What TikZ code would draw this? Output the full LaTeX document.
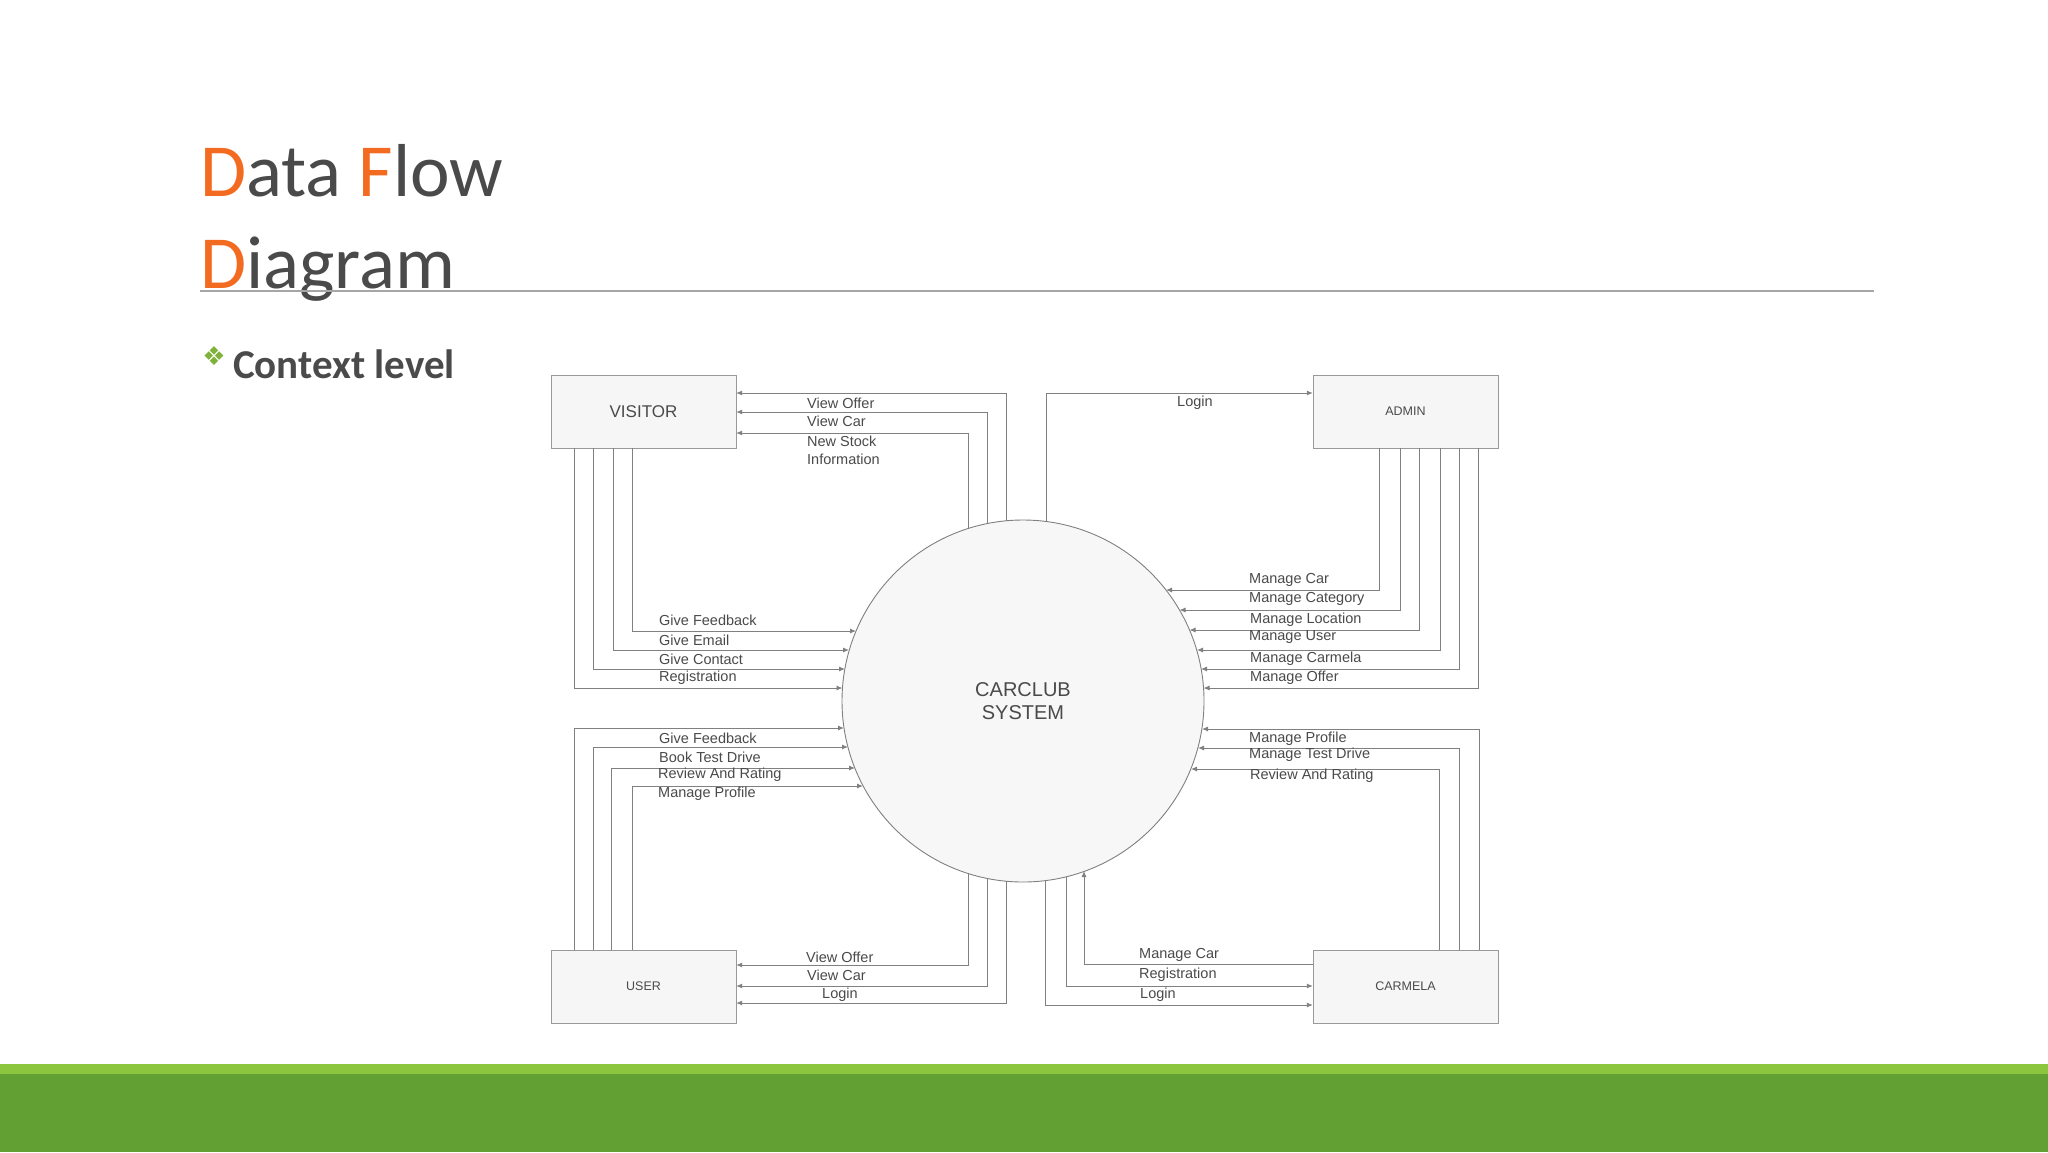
\documentclass[tikz,border=0pt]{standalone}
\usepackage{fontspec}
\setmainfont{Carlito}
\newfontfamily\arialf{Liberation Sans}
\newfontfamily\djv{DejaVu Sans}
\usetikzlibrary{arrows.meta}
\definecolor{ttl}{HTML}{4A4A4A}
\definecolor{org}{HTML}{F26B21}
\definecolor{lgreen}{HTML}{8CC63E}
\definecolor{dgreen}{HTML}{62A034}
\definecolor{ln}{HTML}{808080}
\definecolor{tx}{HTML}{4A4A4A}
\tikzset{
  ent/.style={draw=ln!80,fill=gray!7,minimum width=185pt,minimum height=73pt,inner sep=0pt,font=\arialf\fontsize{17}{17}\selectfont,text=tx},
  flow/.style={draw=ln,line width=0.9pt,-{Latex[length=6pt,width=5pt]}},
  lbl/.style={font=\arialf\fontsize{14.5}{16}\selectfont,text=tx,inner sep=0pt,anchor=west}
}
\begin{document}
\begin{tikzpicture}[x=1pt,y=-1pt]
\useasboundingbox (0,0) rectangle (2048,1152);
\fill[white] (0,0) rectangle (2048,1152);
% title
\node[anchor=base west,inner sep=0pt,font=\fontsize{75}{75}\selectfont,text=ttl] (t1) at (200,196) {\textcolor{org}{D}ata \textcolor{org}{F}low};
\node[anchor=base west,inner sep=0pt,font=\fontsize{75}{75}\selectfont,text=ttl] (t2) at (200,288) {\textcolor{org}{D}iagram};
\draw[gray!70,line width=1.2pt] (200,291) -- (1874,291);
\node[anchor=center,inner sep=0pt,font=\djv\fontsize{26}{26}\selectfont,text=lgreen!90!black] (bul) at (214,356) {❖};
\node[anchor=west,inner sep=0pt,font=\bfseries\fontsize{41}{41}\selectfont,text=ttl] (ctx) at (233,364) {Context level};
% bands
\fill[lgreen] (0,1064) rectangle (2048,1074);
\fill[dgreen] (0,1074) rectangle (2048,1152);
% entities
\node[ent] (vis) at (643.5,411.5) {VISITOR};
\node[ent,font=\arialf\fontsize{12.5}{12}\selectfont] (adm) at (1405.5,411.5) {ADMIN};
\node[ent,font=\arialf\fontsize{12.5}{12}\selectfont] (usr) at (643.5,986.5) {USER};
\node[ent,font=\arialf\fontsize{12.5}{12}\selectfont] (car) at (1405.5,986.5) {CARMELA};
\node[circle,draw=ln,line width=0.9pt,fill=gray!6,minimum size=362pt,inner sep=0pt,align=center,font=\arialf\fontsize{20}{23}\selectfont,text=tx] (sys) at (1023,701) {CARCLUB\\SYSTEM};
% visitor top
\draw[flow] (1006,521) |- (vis.east |- 0,393);
\draw[flow] (987,524) |- (vis.east |- 0,412);
\draw[flow] (968,529) |- (vis.east |- 0,433);
\node[lbl] (l1) at (807,403) {View Offer};
\node[lbl] (l2) at (807,421) {View Car};
\node[lbl,align=left,font=\arialf\fontsize{14.5}{18}\selectfont] (l3) at (807,450) {New Stock\\Information};
% visitor down
\draw[flow] (vis.south -| 632,0) |- (856,631);
\draw[flow] (vis.south -| 613,0) |- (849,650);
\draw[flow] (vis.south -| 593,0) |- (845,669);
\draw[flow] (vis.south -| 574,0) |- (842.5,688);
\node[lbl] (l4) at (659,620) {Give Feedback};
\node[lbl] (l5) at (659,640) {Give Email};
\node[lbl] (l6) at (659,659) {Give Contact};
\node[lbl] (l7) at (659,678) {Registration};
% admin
\draw[flow] (1046,521.5) |- (adm.west |- 0,393);
\node[lbl] (l8) at (1177,403) {Login};
\draw[flow] (adm.south -| 1379,0) |- (1166,590);
\draw[flow] (adm.south -| 1400,0) |- (1179.5,610);
\draw[flow] (adm.south -| 1419,0) |- (1189.5,630);
\draw[flow] (adm.south -| 1440,0) |- (1197,650);
\draw[flow] (adm.south -| 1459,0) |- (1201,669);
\draw[flow] (adm.south -| 1478,0) |- (1203.5,688);
\node[lbl] (l9) at (1249,580) {Manage Car};
\node[lbl] (l10) at (1249,599) {Manage Category};
\node[lbl] (l11) at (1250,620) {Manage Location};
\node[lbl] (l12) at (1249,637) {Manage User};
\node[lbl] (l13) at (1250,659) {Manage Carmela};
\node[lbl] (l14) at (1250,678) {Manage Offer};
% user
\draw[flow] (usr.north -| 574,0) |- (844,728);
\draw[flow] (usr.north -| 593,0) |- (848,747);
\draw[flow] (usr.north -| 611,0) |- (855,768);
\draw[flow] (usr.north -| 632,0) |- (863,786);
\node[lbl] (l15) at (659,738) {Give Feedback};
\node[lbl] (l16) at (659,757) {Book Test Drive};
\node[lbl] (l17) at (658,775) {Review And Rating};
\node[lbl] (l18) at (658,794) {Manage Profile};
\draw[flow] (968,873) |- (usr.east |- 0,965);
\draw[flow] (987,878) |- (usr.east |- 0,986);
\draw[flow] (1006,881) |- (usr.east |- 0,1003);
\node[lbl] (l19) at (806,957) {View Offer};
\node[lbl] (l20) at (807,975) {View Car};
\node[lbl] (l21) at (822,995) {Login};
% carmela
\draw[flow] (car.north -| 1479,0) |- (1202,729);
\draw[flow] (car.north -| 1459,0) |- (1198,748);
\draw[flow] (car.north -| 1439,0) |- (1191,769);
\node[lbl] (l22) at (1249,739) {Manage Profile};
\node[lbl] (l23) at (1249,755) {Manage Test Drive};
\node[lbl] (l24) at (1250,776) {Review And Rating};
\draw[flow] (car.west |- 0,964) -| (1084,871);
\draw[flow] (1066,877) |- (car.west |- 0,986);
\draw[flow] (1045,880.5) |- (car.west |- 0,1005);
\node[lbl] (l25) at (1139,955) {Manage Car};
\node[lbl] (l26) at (1139,975) {Registration};
\node[lbl] (l27) at (1140,995) {Login};
\end{tikzpicture}
\end{document}
